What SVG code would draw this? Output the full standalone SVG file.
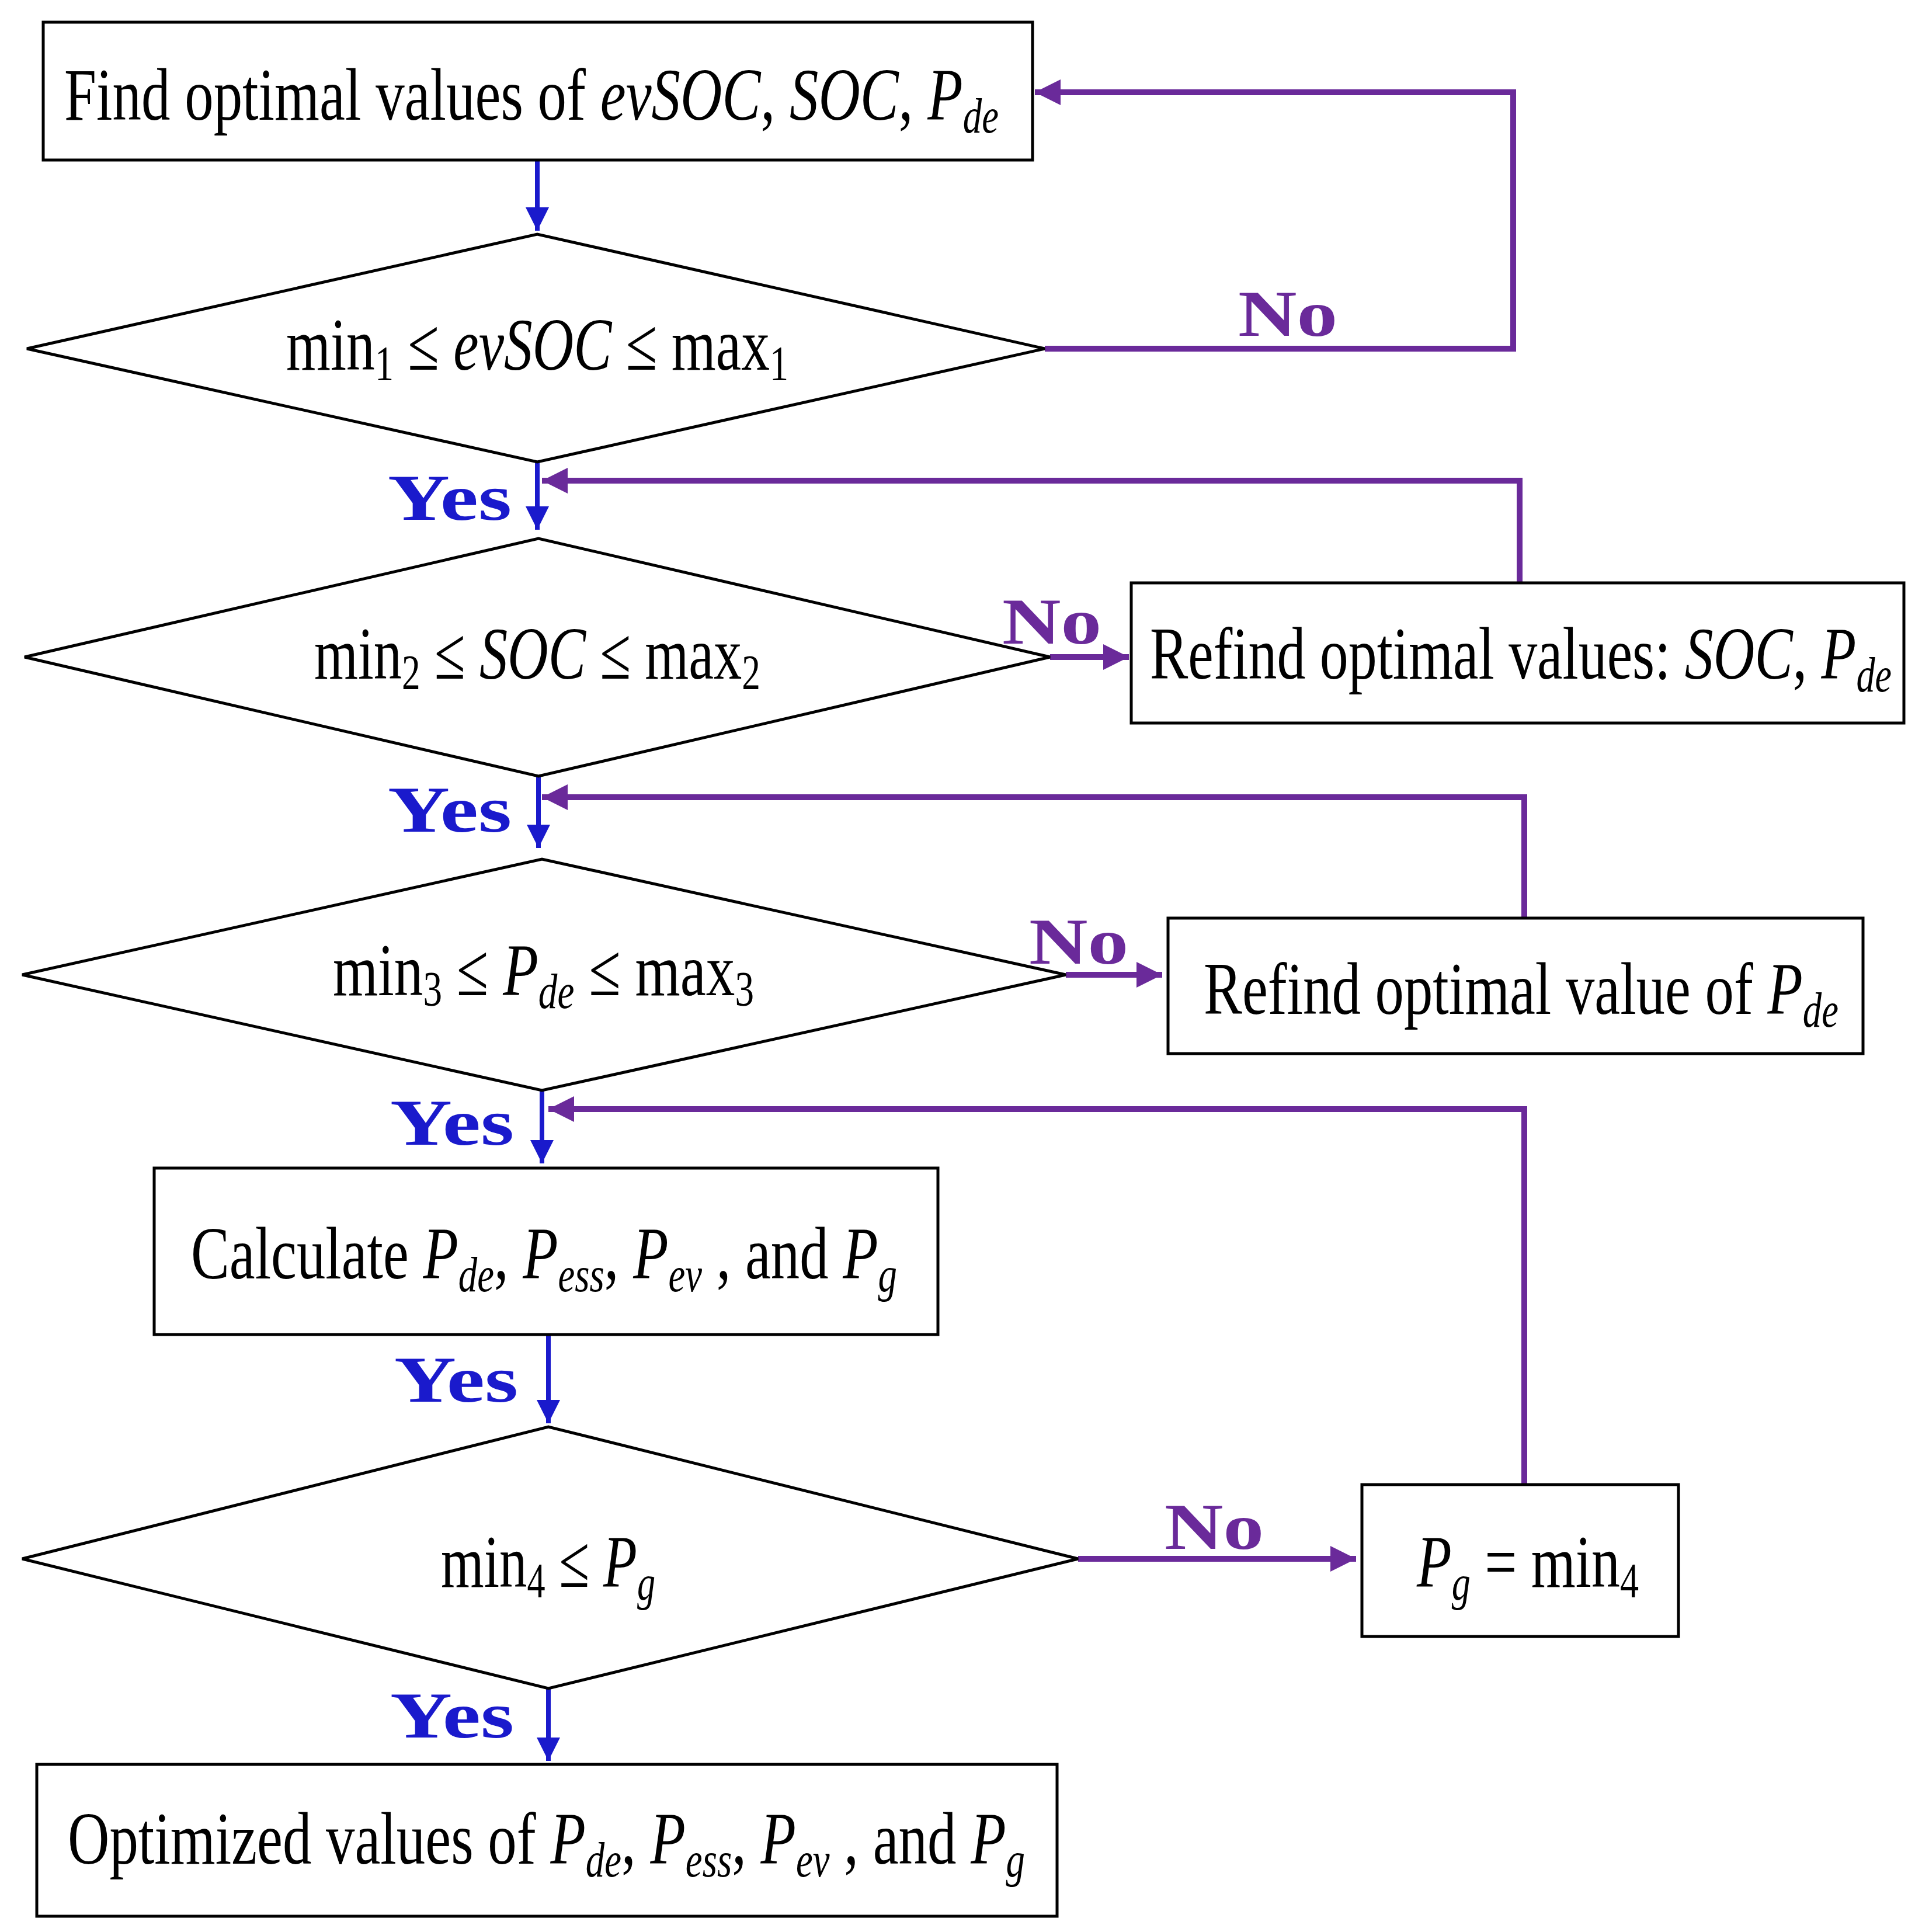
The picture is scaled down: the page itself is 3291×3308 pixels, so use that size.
<svg xmlns="http://www.w3.org/2000/svg" width="3291" height="3308" viewBox="0 0 3291 3308">
<style>
.s{fill:#fff;stroke:#000;stroke-width:5}
.t{font-family:"Liberation Serif",serif;font-size:128px;fill:#000}
.i{font-style:italic}
.sb{font-size:84px}
.b{stroke:#1a1acc;stroke-width:8;fill:none}
.p{stroke:#6a2a9a;stroke-width:10;fill:none}
.y{font-family:"Liberation Serif",serif;font-weight:bold;font-size:112px;fill:#1a1acc}
.n{font-family:"Liberation Serif",serif;font-weight:bold;font-size:112px;fill:#6a2a9a}
</style>
<defs>
<marker id="ab" markerUnits="userSpaceOnUse" markerWidth="40" markerHeight="40" viewBox="0 0 10 10" refX="10" refY="5" orient="auto"><path d="M0,0L10,5L0,10z" fill="#1a1acc"/></marker>
<marker id="ap" markerUnits="userSpaceOnUse" markerWidth="44" markerHeight="44" viewBox="0 0 10 10" refX="10" refY="5" orient="auto"><path d="M0,0L10,5L0,10z" fill="#6a2a9a"/></marker>
</defs>
<rect width="3291" height="3308" fill="#fff"/>
<g id="connectors">
<path class="b" d="M920,274V395" marker-end="url(#ab)"/>
<path class="b" d="M920,791V907" marker-end="url(#ab)"/>
<path class="b" d="M922,1329V1452" marker-end="url(#ab)"/>
<path class="b" d="M928,1867V1992" marker-end="url(#ab)"/>
<path class="b" d="M939,2285V2437" marker-end="url(#ab)"/>
<path class="b" d="M939,2891V3015" marker-end="url(#ab)"/>
<path class="p" d="M1789,597H2591V158H1772" marker-end="url(#ap)"/>
<path class="p" d="M2602,998V823H928" marker-end="url(#ap)"/>
<path class="p" d="M1798,1125H1933" marker-end="url(#ap)"/>
<path class="p" d="M2610,1572V1365H928" marker-end="url(#ap)"/>
<path class="p" d="M1825,1669H1990" marker-end="url(#ap)"/>
<path class="p" d="M2610,2542V1899H939" marker-end="url(#ap)"/>
<path class="p" d="M1846,2669H2322" marker-end="url(#ap)"/>
<text class="n" x="2120" y="575" textLength="170" lengthAdjust="spacingAndGlyphs">No</text>
<text class="n" x="1716" y="1102" textLength="170" lengthAdjust="spacingAndGlyphs">No</text>
<text class="n" x="1762" y="1650" textLength="170" lengthAdjust="spacingAndGlyphs">No</text>
<text class="n" x="1994" y="2652" textLength="170" lengthAdjust="spacingAndGlyphs">No</text>
<text class="y" x="664" y="890" textLength="212" lengthAdjust="spacingAndGlyphs">Yes</text>
<text class="y" x="664" y="1424" textLength="212" lengthAdjust="spacingAndGlyphs">Yes</text>
<text class="y" x="668" y="1960" textLength="212" lengthAdjust="spacingAndGlyphs">Yes</text>
<text class="y" x="675" y="2400" textLength="212" lengthAdjust="spacingAndGlyphs">Yes</text>
<text class="y" x="668" y="2975" textLength="212" lengthAdjust="spacingAndGlyphs">Yes</text>
</g>
<g id="n1"><rect class="s" x="74" y="38" width="1694" height="236"/>
<text class="t" x="110" y="205" textLength="1600" lengthAdjust="spacingAndGlyphs">Find optimal values of <tspan class="i">evSOC</tspan>, <tspan class="i">SOC</tspan>, <tspan class="i">P</tspan><tspan class="i sb" dy="22">de</tspan></text></g>
<g id="d1"><polygon class="s" points="46,597 920,401 1789,597 920,791"/>
<text class="t" x="490" y="633" textLength="860" lengthAdjust="spacingAndGlyphs">min<tspan class="sb" dy="18">1</tspan><tspan dy="-18"> ≤ </tspan><tspan class="i">evSOC</tspan> ≤ max<tspan class="sb" dy="18">1</tspan></text></g>
<g id="d2"><polygon class="s" points="42,1125 922,922 1798,1125 922,1329"/>
<text class="t" x="538" y="1162" textLength="764" lengthAdjust="spacingAndGlyphs">min<tspan class="sb" dy="18">2</tspan><tspan dy="-18"> ≤ </tspan><tspan class="i">SOC</tspan> ≤ max<tspan class="sb" dy="18">2</tspan></text></g>
<g id="r1"><rect class="s" x="1937" y="998" width="1323" height="240"/>
<text class="t" x="1969" y="1162" textLength="1270" lengthAdjust="spacingAndGlyphs">Refind optimal values: <tspan class="i">SOC</tspan>, <tspan class="i">P</tspan><tspan class="i sb" dy="22">de</tspan></text></g>
<g id="d3"><polygon class="s" points="38,1669 928,1471 1825,1669 928,1867"/>
<text class="t" x="570" y="1704" textLength="721" lengthAdjust="spacingAndGlyphs">min<tspan class="sb" dy="18">3</tspan><tspan dy="-18"> ≤ </tspan><tspan class="i">P</tspan><tspan class="i sb" dy="22">de</tspan><tspan dy="-22"> ≤ max</tspan><tspan class="sb" dy="18">3</tspan></text></g>
<g id="r2"><rect class="s" x="2000" y="1572" width="1190" height="232"/>
<text class="t" x="2061" y="1736" textLength="1087" lengthAdjust="spacingAndGlyphs">Refind optimal value of <tspan class="i">P</tspan><tspan class="i sb" dy="22">de</tspan></text></g>
<g id="c"><rect class="s" x="264" y="2000" width="1342" height="285"/>
<text class="t" x="327" y="2189" textLength="1209" lengthAdjust="spacingAndGlyphs">Calculate <tspan class="i">P</tspan><tspan class="i sb" dy="22">de</tspan><tspan dy="-22">, </tspan><tspan class="i">P</tspan><tspan class="i sb" dy="22">ess</tspan><tspan dy="-22">, </tspan><tspan class="i">P</tspan><tspan class="i sb" dy="22">ev</tspan><tspan dy="-22"> , and </tspan><tspan class="i">P</tspan><tspan class="i sb" dy="22">g</tspan></text></g>
<g id="d4"><polygon class="s" points="38,2669 939,2443 1846,2669 939,2891"/>
<text class="t" x="755" y="2717" textLength="367" lengthAdjust="spacingAndGlyphs">min<tspan class="sb" dy="18">4</tspan><tspan dy="-18"> ≤ </tspan><tspan class="i">P</tspan><tspan class="i sb" dy="22">g</tspan></text></g>
<g id="pg"><rect class="s" x="2332" y="2542" width="542" height="260"/>
<text class="t" x="2426" y="2717" textLength="380" lengthAdjust="spacingAndGlyphs"><tspan class="i">P</tspan><tspan class="i sb" dy="22">g</tspan><tspan dy="-22"> = min</tspan><tspan class="sb" dy="18">4</tspan></text></g>
<g id="f"><rect class="s" x="63" y="3021" width="1747" height="260"/>
<text class="t" x="116" y="3191" textLength="1639" lengthAdjust="spacingAndGlyphs">Optimized values of <tspan class="i">P</tspan><tspan class="i sb" dy="22">de</tspan><tspan dy="-22">, </tspan><tspan class="i">P</tspan><tspan class="i sb" dy="22">ess</tspan><tspan dy="-22">, </tspan><tspan class="i">P</tspan><tspan class="i sb" dy="22">ev</tspan><tspan dy="-22"> , and </tspan><tspan class="i">P</tspan><tspan class="i sb" dy="22">g</tspan></text></g>
</svg>
